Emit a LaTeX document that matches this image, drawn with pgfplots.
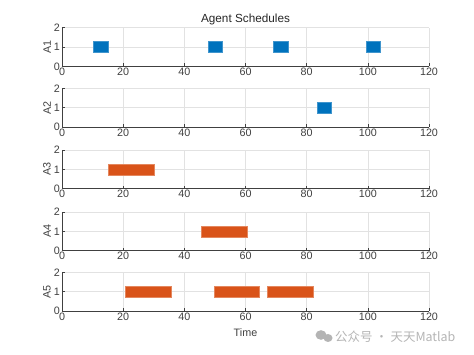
\documentclass[border=0pt]{standalone}
\usepackage{pgfplots}
\pgfplotsset{compat=1.18}
\usepackage{fontspec}
\setmainfont{Liberation Sans}
\newfontfamily\cjk{Noto Sans CJK SC}
\definecolor{mblue}{HTML}{0072BD}
\definecolor{morange}{HTML}{D95319}
\definecolor{axgray}{HTML}{404040}
\definecolor{gridgray}{HTML}{E2E2E2}
\definecolor{wmgray}{HTML}{B4B4B4}
\pgfplotsset{sched/.style={
  scale only axis, width=367bp, height=38.6bp, anchor=south west,
  xmin=0, xmax=120, ymin=0, ymax=2,
  xtick={0,20,...,120}, ytick={0,1,2},
  axis x line*=bottom, axis y line*=left,
  grid=major, major grid style={gridgray, line width=0.5pt},
  axis line style={axgray, line width=0.6pt},
  tick style={axgray, line width=0.5pt}, tick align=inside, major tick length=3bp,
  tick label style={font=\fontsize{10.8}{11}\selectfont, text=axgray},
  xticklabel style={inner sep=1.5bp},
  yticklabel style={inner sep=2bp},
  /pgf/number format/assume math mode=true,
  ylabel style={at={(axis description cs:-0.021,0.5)}, anchor=south,
     font=\fontsize{10.8}{11}\selectfont, text=axgray},
  xlabel style={font=\fontsize{10.8}{11}\selectfont, text=axgray, yshift=-3bp},
  clip=false,
}}
\tikzset{
  bblue/.style={fill=mblue, draw=mblue!75!white, line width=0.5pt},
  borange/.style={fill=morange, draw=morange!70!white, line width=0.5pt},
}
\begin{document}
\begin{tikzpicture}
\path[use as bounding box] (0,0) rectangle (474bp,355bp);
% A1
\begin{axis}[sched, at={(62bp,288.7bp)}, ylabel={A1},
  title={Agent Schedules}, title style={font=\fontsize{11.8}{12}\selectfont, text=black!85, yshift=-7bp}]
\addplot[bblue] coordinates {(10.2,0.72) (15,0.72) (15,1.28) (10.2,1.28)} -- cycle;
\addplot[bblue] coordinates {(47.8,0.72) (52.5,0.72) (52.5,1.28) (47.8,1.28)} -- cycle;
\addplot[bblue] coordinates {(69.1,0.72) (73.9,0.72) (73.9,1.28) (69.1,1.28)} -- cycle;
\addplot[bblue] coordinates {(99.5,0.72) (104.2,0.72) (104.2,1.28) (99.5,1.28)} -- cycle;
\end{axis}
% A2
\begin{axis}[sched, at={(62bp,228bp)}, ylabel={A2}]
\addplot[bblue] coordinates {(83.4,0.72) (88.1,0.72) (88.1,1.28) (83.4,1.28)} -- cycle;
\end{axis}
% A3
\begin{axis}[sched, at={(62bp,166.3bp)}, ylabel={A3}]
\addplot[borange] coordinates {(15,0.72) (30,0.72) (30,1.28) (15,1.28)} -- cycle;
\end{axis}
% A4
\begin{axis}[sched, at={(62bp,104.3bp)}, ylabel={A4}]
\addplot[borange] coordinates {(45.5,0.72) (60.5,0.72) (60.5,1.28) (45.5,1.28)} -- cycle;
\end{axis}
% A5
\begin{axis}[sched, at={(62bp,44bp)}, ylabel={A5}, xlabel={Time}]
\addplot[borange] coordinates {(20.8,0.72) (35.7,0.72) (35.7,1.28) (20.8,1.28)} -- cycle;
\addplot[borange] coordinates {(49.7,0.72) (64.6,0.72) (64.6,1.28) (49.7,1.28)} -- cycle;
\addplot[borange] coordinates {(67.1,0.72) (82.1,0.72) (82.1,1.28) (67.1,1.28)} -- cycle;
\end{axis}
% watermark
\fill[wmgray] (321bp,20bp) ellipse (5.5bp and 4.8bp);
\fill[wmgray] (328bp,17bp) ellipse (4.5bp and 4bp);
\node[anchor=west, text=wmgray, inner sep=0pt, font=\cjk\fontsize{12.5}{13}\selectfont] at (335bp,18.5bp) {公众号 · 天天Matlab};
\end{tikzpicture}
\end{document}
